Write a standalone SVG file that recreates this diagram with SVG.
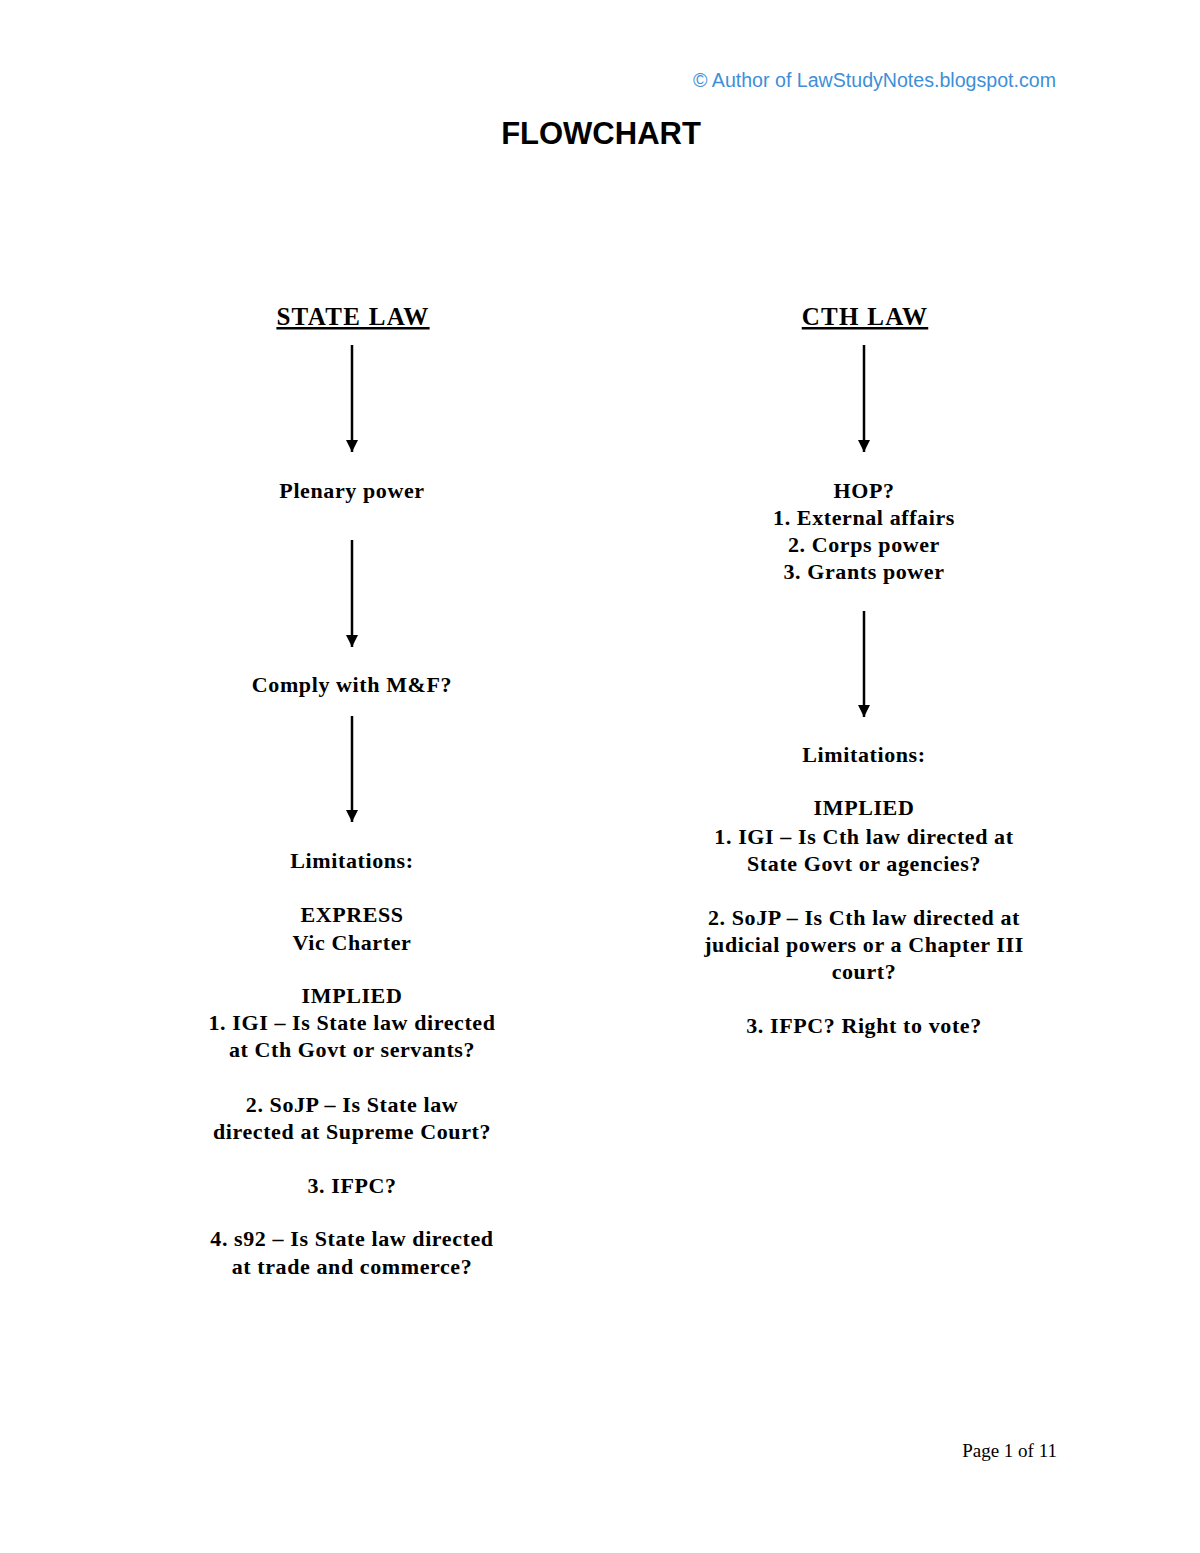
<svg xmlns="http://www.w3.org/2000/svg" width="1200" height="1553" viewBox="0 0 1200 1553">
<defs>
<style>
.t{font-family:"Liberation Serif",serif;font-size:22px;font-weight:bold;letter-spacing:0.6px;text-anchor:middle;fill:#000}
.h{font-family:"Liberation Serif",serif;font-size:25px;font-weight:bold;letter-spacing:1.3px;text-anchor:middle;text-decoration:underline;fill:#000}
.c{stroke:#000;stroke-width:2.5;fill:none;marker-end:url(#a)}
</style>
<marker id="a" viewBox="0 0 10 10" refX="10" refY="5" markerWidth="5" markerHeight="5" orient="auto" markerUnits="strokeWidth"><path d="M0,0 L10,5 L0,10 z" fill="#000"/></marker>
</defs>
<rect width="1200" height="1553" fill="#fff"/>
<text x="1056" y="87" font-family="Liberation Sans,sans-serif" font-size="19.6" fill="#3d8fd8" text-anchor="end">© Author of LawStudyNotes.blogspot.com</text>
<text x="601" y="144" font-family="Liberation Sans,sans-serif" font-size="31" font-weight="bold" text-anchor="middle">FLOWCHART</text>
<g id="state"><text class="h" x="353" y="325">STATE LAW</text></g>
<g id="cth"><text class="h" x="865" y="325">CTH LAW</text></g>
<g id="plenary"><text class="t" x="352" y="498">Plenary power</text></g>
<g id="mf"><text class="t" x="352" y="692">Comply with M&amp;F?</text></g>
<g id="statelim">
<text class="t" x="352" y="868">Limitations:</text>
<text class="t" x="352" y="922">EXPRESS</text>
<text class="t" x="352" y="950">Vic Charter</text>
<text class="t" x="352" y="1003">IMPLIED</text>
<text class="t" x="352" y="1030">1. IGI – Is State law directed</text>
<text class="t" x="352" y="1057">at Cth Govt or servants?</text>
<text class="t" x="352" y="1112">2. SoJP – Is State law</text>
<text class="t" x="352" y="1139">directed at Supreme Court?</text>
<text class="t" x="352" y="1193">3. IFPC?</text>
<text class="t" x="352" y="1246">4. s92 – Is State law directed</text>
<text class="t" x="352" y="1274">at trade and commerce?</text>
</g>
<g id="hop">
<text class="t" x="864" y="498">HOP?</text>
<text class="t" x="864" y="525">1. External affairs</text>
<text class="t" x="864" y="552">2. Corps power</text>
<text class="t" x="864" y="579">3. Grants power</text>
</g>
<g id="cthlim">
<text class="t" x="864" y="762">Limitations:</text>
<text class="t" x="864" y="815">IMPLIED</text>
<text class="t" x="864" y="844">1. IGI – Is Cth law directed at</text>
<text class="t" x="864" y="871">State Govt or agencies?</text>
<text class="t" x="864" y="925">2. SoJP – Is Cth law directed at</text>
<text class="t" x="864" y="952">judicial powers or a Chapter III</text>
<text class="t" x="864" y="979">court?</text>
<text class="t" x="864" y="1033">3. IFPC? Right to vote?</text>
</g>
<g id="connectors">
<line class="c" x1="352" y1="345" x2="352" y2="452"/>
<line class="c" x1="352" y1="540" x2="352" y2="647"/>
<line class="c" x1="352" y1="716" x2="352" y2="822"/>
<line class="c" x1="864" y1="345" x2="864" y2="452"/>
<line class="c" x1="864" y1="611" x2="864" y2="717"/>
</g>
<text x="1057" y="1457" font-family="Liberation Serif,serif" font-size="19" text-anchor="end">Page 1 of 11</text>
</svg>
